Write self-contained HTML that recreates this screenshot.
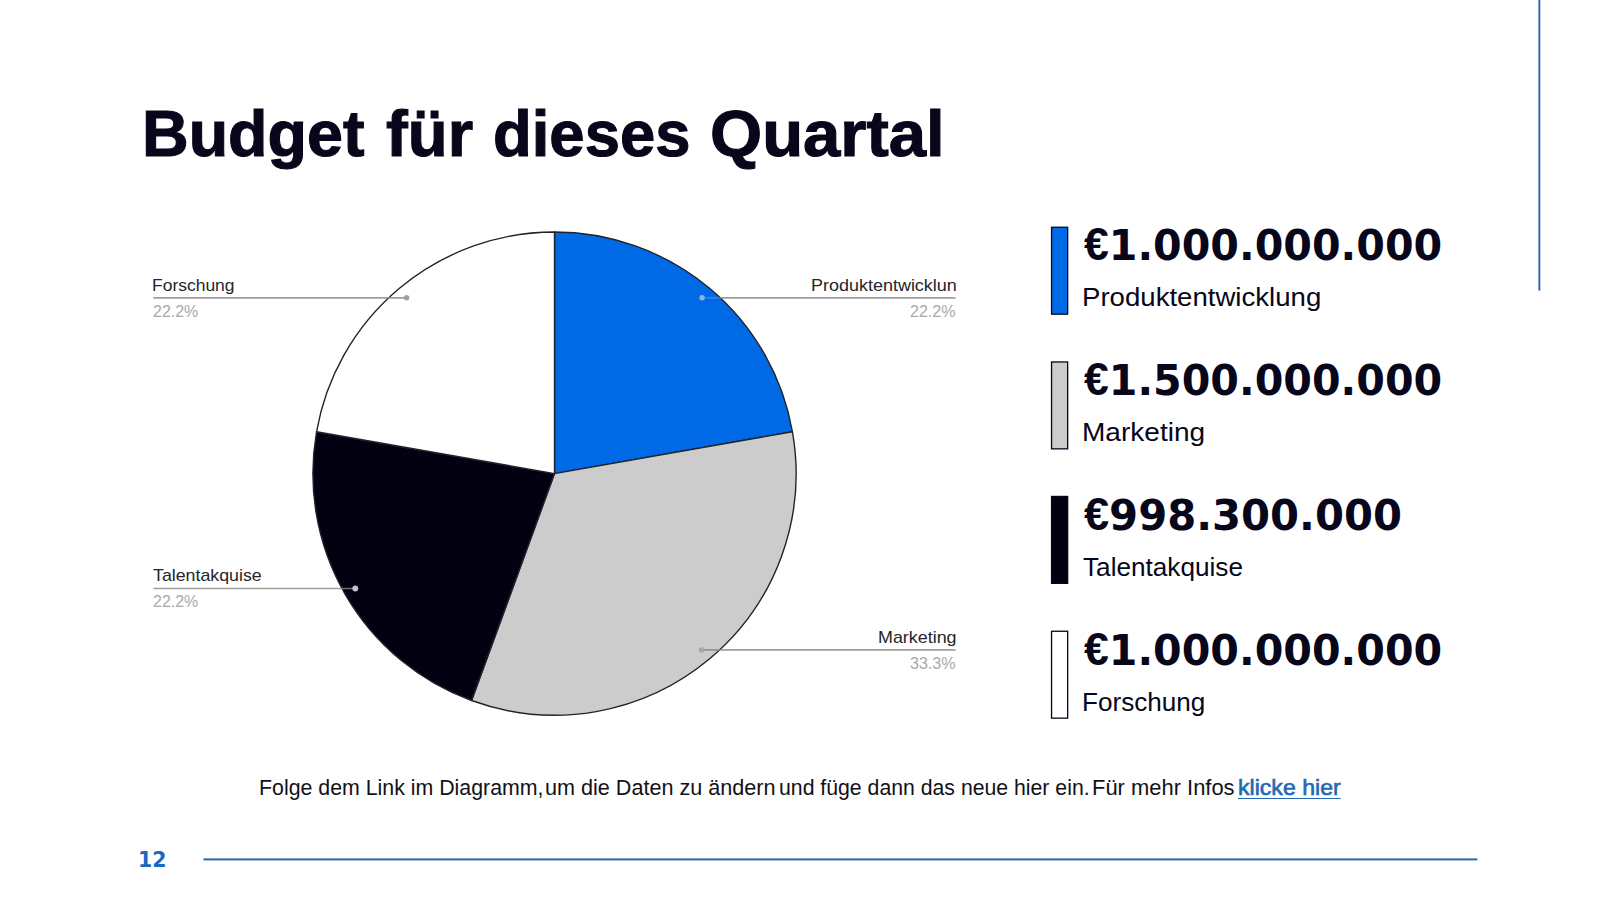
<!DOCTYPE html>
<html lang="de">
<head>
<meta charset="utf-8">
<title>Budget für dieses Quartal</title>
<style>
html,body{margin:0;padding:0;background:#fff;}
body{width:1600px;height:900px;position:relative;overflow:hidden;font-family:"Liberation Sans",sans-serif;color:#07061a;}
.abs{position:absolute;white-space:nowrap;line-height:1;transform-origin:0 0;}
.abs a{color:inherit;text-decoration:underline;text-decoration-thickness:1.2px;text-underline-offset:2.5px;}
svg{position:absolute;left:0;top:0;}
</style>
</head>
<body>
<svg width="1600" height="900" viewBox="0 0 1600 900">
  <rect x="1538.4" y="0" width="1.9" height="290.6" fill="#2a66ab"/>
  <rect x="203.4" y="858.4" width="1274" height="2" fill="#2c68ae"/>
  <g stroke="#22222c" stroke-width="1.4" stroke-linejoin="round">
    <path d="M554.5,473.6 L554.50,232.00 A241.6,241.6 0 0 1 792.45,431.77 Z" fill="#006ae6"/>
    <path d="M554.5,473.6 L792.45,431.77 A241.6,241.6 0 0 1 471.57,700.52 Z" fill="#cccccc"/>
    <path d="M554.5,473.6 L471.57,700.52 A241.6,241.6 0 0 1 316.55,431.77 Z" fill="#030012"/>
    <path d="M554.5,473.6 L316.55,431.77 A241.6,241.6 0 0 1 554.50,232.00 Z" fill="#ffffff"/>
  </g>
  <g stroke="#878787" stroke-opacity="0.81" stroke-width="1.7">
    <line x1="153.4" y1="297.8" x2="406.6" y2="297.8"/>
    <line x1="720.2" y1="297.8" x2="955.6" y2="297.8"/>
    <line x1="153.4" y1="588.5" x2="355.3" y2="588.5"/>
    <line x1="701.5" y1="649.9" x2="955.6" y2="649.9"/>
  </g>
  <line x1="702.2" y1="297.8" x2="720.2" y2="297.8" stroke="#9ab8dc" stroke-opacity="0.3" stroke-width="1.7"/>
  <circle cx="406.6" cy="297.8" r="2.7" fill="#a0a0a0"/>
  <circle cx="702.1" cy="297.8" r="2.7" fill="#86b4e6"/>
  <circle cx="355.3" cy="588.5" r="2.9" fill="#c4c4cc"/>
  <circle cx="701.5" cy="649.9" r="2.7" fill="#a6a6a6"/>
  <g stroke="#07061a" stroke-width="1.3">
    <rect x="1051.55" y="227.25" width="16.1" height="86.9" fill="#006ae6"/>
    <rect x="1051.55" y="361.95" width="16.1" height="86.9" fill="#cccccc"/>
    <rect x="1051.55" y="496.45" width="16.1" height="86.9" fill="#030012"/>
    <rect x="1051.55" y="631.25" width="16.1" height="86.9" fill="#ffffff"/>
  </g>
</svg>
<h1 style="margin:0;font:inherit">
<span class="abs" id="t1" style="left:142.30px;top:101.02px;font-size:65.5px;font-weight:bold;color:#07061a;-webkit-text-stroke:1.1px #07061a;transform:scaleX(0.9860);">Budget</span>
<span class="abs" id="t2" style="left:385.75px;top:101.02px;font-size:65.5px;font-weight:bold;color:#07061a;-webkit-text-stroke:1.1px #07061a;transform:scaleX(0.9971);">für</span>
<span class="abs" id="t3" style="left:493.42px;top:101.02px;font-size:65.5px;font-weight:bold;color:#07061a;-webkit-text-stroke:1.1px #07061a;transform:scaleX(0.9682);">dieses</span>
<span class="abs" id="t4" style="left:710.20px;top:101.02px;font-size:65.5px;font-weight:bold;color:#07061a;-webkit-text-stroke:1.1px #07061a;transform:scaleX(1.0233);">Quartal</span>
</h1>
<div style="margin:0;font:inherit">
<span class="abs" id="c1" style="left:152.18px;top:277.95px;font-size:16.6px;color:#25252b;transform:scaleX(1.0526);">Forschung</span>
<span class="abs" id="p1" style="left:152.78px;top:303.95px;font-size:16.6px;color:#a9a9a9;transform:scaleX(0.9617);">22.2%</span>
<span class="abs" id="c2" style="left:810.95px;top:277.95px;font-size:16.6px;color:#25252b;transform:scaleX(1.0828);">Produktentwicklun</span>
<span class="abs" id="p2" style="left:910.27px;top:303.95px;font-size:16.6px;color:#a9a9a9;transform:scaleX(0.9683);">22.2%</span>
<span class="abs" id="c3" style="left:153.03px;top:568.45px;font-size:16.6px;color:#25252b;transform:scaleX(1.0716);">Talentakquise</span>
<span class="abs" id="p3" style="left:152.78px;top:594.45px;font-size:16.6px;color:#a9a9a9;transform:scaleX(0.9617);">22.2%</span>
<span class="abs" id="c4" style="left:878.15px;top:629.95px;font-size:16.6px;color:#25252b;transform:scaleX(1.0780);">Marketing</span>
<span class="abs" id="p4" style="left:910.27px;top:655.95px;font-size:16.6px;color:#a9a9a9;transform:scaleX(0.9683);">33.3%</span>
</div>
<div style="margin:0;font:inherit">
<span class="abs" id="n1" style="left:1083.76px;top:225.12px;font-size:42.5px;font-weight:bold;color:#07061a;font-family:'DejaVu Sans',sans-serif;transform:scaleX(0.9687);"><span style="font-family:'Liberation Sans',sans-serif;font-size:46px;line-height:0;">€</span>1.000.000.000</span>
<span class="abs" id="l1" style="left:1082.36px;top:283.82px;font-size:26.5px;color:#07061a;transform:scaleX(1.0412);">Produktentwicklung</span>
<span class="abs" id="n2" style="left:1083.76px;top:360.12px;font-size:42.5px;font-weight:bold;color:#07061a;font-family:'DejaVu Sans',sans-serif;transform:scaleX(0.9687);"><span style="font-family:'Liberation Sans',sans-serif;font-size:46px;line-height:0;">€</span>1.500.000.000</span>
<span class="abs" id="l2" style="left:1081.92px;top:418.82px;font-size:26.5px;color:#07061a;transform:scaleX(1.0587);">Marketing</span>
<span class="abs" id="n3" style="left:1083.75px;top:495.12px;font-size:42.5px;font-weight:bold;color:#07061a;font-family:'DejaVu Sans',sans-serif;transform:scaleX(0.9815);"><span style="font-family:'Liberation Sans',sans-serif;font-size:46px;line-height:0;">€</span>998.300.000</span>
<span class="abs" id="l3" style="left:1083.21px;top:553.82px;font-size:26.5px;color:#07061a;transform:scaleX(0.9872);">Talentakquise</span>
<span class="abs" id="n4" style="left:1083.76px;top:630.12px;font-size:42.5px;font-weight:bold;color:#07061a;font-family:'DejaVu Sans',sans-serif;transform:scaleX(0.9687);"><span style="font-family:'Liberation Sans',sans-serif;font-size:46px;line-height:0;">€</span>1.000.000.000</span>
<span class="abs" id="l4" style="left:1082.28px;top:688.82px;font-size:26.5px;color:#07061a;transform:scaleX(0.9856);">Forschung</span>
</div>
<p style="margin:0;font:inherit">
<span class="abs" id="note1" style="left:258.76px;top:778.30px;font-size:21.5px;color:#111118;transform:scaleX(0.9920);">Folge dem Link im Diagramm,</span>
<span class="abs" id="note2" style="left:545.24px;top:778.30px;font-size:21.5px;color:#111118;transform:scaleX(1.0044);">um die Daten zu ändern</span>
<span class="abs" id="note3" style="left:779.27px;top:778.30px;font-size:21.5px;color:#111118;transform:scaleX(0.9879);">und füge dann das neue hier ein.</span>
<span class="abs" id="note4" style="left:1091.96px;top:778.30px;font-size:21.5px;color:#111118;transform:scaleX(1.0200);">Für mehr Infos</span>
<span class="abs" id="link" style="left:1237.91px;top:778.16px;font-size:21.5px;color:#2468b4;-webkit-text-stroke:0.6px #2468b4;transform:scaleX(1.0743);"><a>klicke hier</a></span>
</p>
<div style="margin:0;font:inherit">
<span class="abs" id="pg" style="left:138.21px;top:849.48px;font-size:21.4px;color:#1b68c2;font-weight:bold;font-family:'DejaVu Sans',sans-serif;transform:scaleX(0.9569);">12</span>
</div>
</body>
</html>
